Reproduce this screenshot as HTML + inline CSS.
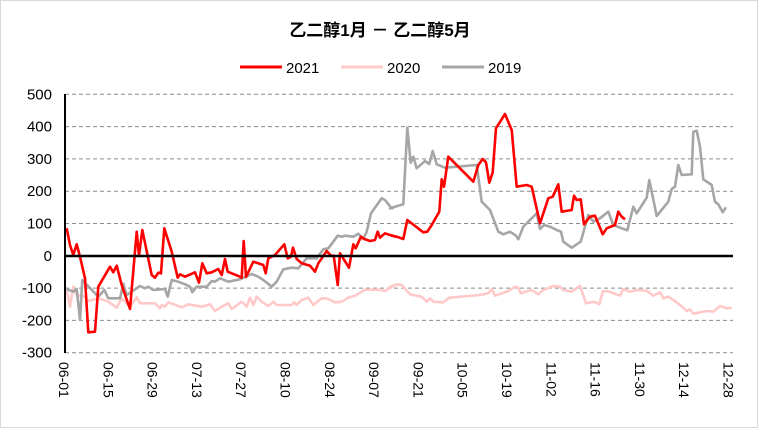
<!DOCTYPE html>
<html><head><meta charset="utf-8"><style>
body{margin:0;background:#fff}
svg{display:block}
text{font-family:"Liberation Sans","Noto Sans CJK SC",sans-serif}
</style></head><body>
<svg id="s" width="758" height="428" xmlns="http://www.w3.org/2000/svg">
<rect x="0.5" y="0.5" width="757" height="427" fill="#fff" stroke="#d9d9d9"/>
<text x="380" y="36" text-anchor="middle" font-size="17" font-weight="bold" fill="#000">乙二醇1月 － 乙二醇5月</text>
<line x1="240" y1="67" x2="282" y2="67" stroke="#ff0000" stroke-width="3"/>
<text x="286" y="73" font-size="15">2021</text>
<line x1="341" y1="67" x2="383" y2="67" stroke="#ffc9c9" stroke-width="3"/>
<text x="387" y="73" font-size="15">2020</text>
<line x1="442" y1="67" x2="484" y2="67" stroke="#a6a6a6" stroke-width="3"/>
<text x="488" y="73" font-size="15">2019</text>
<g id="grid" stroke="#8c8c8c" stroke-dasharray="4,3" stroke-width="1"></g>
<g id="ylab" font-size="15" text-anchor="end"></g>
<g id="xlab" font-size="14"></g>
<g id="lines" fill="none" stroke-width="2.6" stroke-linejoin="round"></g>
<line x1="65" y1="94" x2="65" y2="353" stroke="#000" stroke-width="2"/>
<line x1="65" y1="256" x2="733" y2="256" stroke="#000" stroke-width="2.5"/>
</svg>
<script>
var NS="http://www.w3.org/2000/svg";
function el(t,a,p,txt){var e=document.createElementNS(NS,t);for(var k in a)e.setAttribute(k,a[k]);if(txt!==undefined)e.textContent=txt;document.getElementById(p).appendChild(e);}
for(var i=0;i<9;i++){var y=94.3+i*32.3;var v=500-i*100;if(v!==0)el('line',{x1:65,x2:733,y1:y,y2:y},'grid');el('text',{x:52,y:y+5},'ylab',String(v));}
var labs=["06-01","06-15","06-29","07-13","07-27","08-10","08-24","09-07","09-21","10-05","10-19","11-02","11-16","11-30","12-14","12-28"];
for(var i=0;i<16;i++){var x=64+i*44.3;el('text',{x:0,y:0,transform:'translate('+(x-5)+',362) rotate(90)'},'xlab',labs[i]);}
function conv(a,ox){var r=[];for(var i=0;i<a.length;i+=2){r.push((ox+a[i]/3).toFixed(1)+','+(85+a[i+1]/3).toFixed(1));}return r;}
function line(z1,z2,c){var p=conv(z1,55).concat(conv(z2,390));el('polyline',{points:p.join(' '),stroke:c},'lines');}
line([35,615,45,665,55,605,65,630,90,635,100,648,130,640,160,650,185,668,200,640,225,665,245,637,255,655,300,655,315,670,320,660,330,665,340,652,380,667,400,658,440,665,465,658,480,678,500,665,520,655,530,672,560,650,575,665,585,638,595,660,605,635,620,650,640,663,655,650,665,660,710,660,718,652,725,660,740,645,760,638,775,660,800,640,815,640,840,652,860,650,880,638,900,632,930,614,970,614,990,618,1000,612,1020,600],
[0,605,25,598,35,600,60,628,95,635,110,650,120,640,130,650,160,652,178,638,270,630,295,625,305,612,315,632,355,618,375,605,385,608,392,625,425,615,445,628,460,615,490,603,510,605,520,615,545,620,570,602,588,655,612,650,628,658,638,620,652,618,690,632,700,612,720,620,740,615,770,617,790,632,810,622,820,640,835,635,855,648,880,668,890,678,900,673,910,686,950,678,970,680,990,663,1010,670,1025,668],'#ffc9c9');
line([35,612,55,620,65,612,75,705,82,585,130,635,148,615,160,640,195,640,205,596,215,630,255,603,270,610,280,605,295,615,330,612,338,635,350,585,370,590,390,598,405,605,412,622,425,605,455,605,470,588,480,590,495,580,520,590,555,583,590,567,610,575,625,585,650,605,665,590,685,553,710,548,730,550,755,520,785,520,805,493,820,490,835,470,848,452,860,455,870,452,895,455,910,446,925,462,935,440,948,385,980,340,990,345,1010,370,1020,365],
[0,370,40,358,52,128,62,233,70,215,80,250,105,228,118,237,128,198,140,238,165,248,260,240,275,350,300,375,325,440,340,448,360,440,378,452,385,463,400,425,440,385,450,432,462,420,480,425,500,435,513,440,520,470,545,488,572,470,595,390,610,410,630,400,655,380,670,420,695,430,712,436,730,365,740,385,770,338,778,285,800,393,835,350,845,312,855,305,865,240,875,270,905,268,910,140,920,137,930,185,940,283,965,300,975,350,985,358,998,382,1008,367],'#a6a6a6');
line([35,430,45,480,55,510,65,478,75,515,90,580,100,742,120,740,130,605,165,545,175,562,185,542,200,600,225,672,245,440,252,512,262,435,290,570,300,578,310,563,318,565,328,430,350,500,368,578,375,568,390,575,420,562,432,593,442,535,455,565,470,562,490,552,500,570,510,522,518,560,555,575,560,578,566,468,573,576,595,530,625,540,632,565,640,520,660,510,688,478,698,520,708,515,714,488,725,522,740,535,765,542,780,560,790,535,815,498,828,512,836,512,848,600,855,505,882,548,895,478,902,490,918,455,928,462,945,468,960,465,968,440,975,458,990,445,1020,455],
[0,450,20,455,40,462,52,405,100,442,112,440,125,420,148,380,155,283,162,305,175,215,250,290,265,240,278,222,288,232,298,293,308,262,318,130,345,87,365,135,380,305,410,300,425,305,450,415,475,340,488,335,505,298,515,380,545,375,552,332,560,345,572,343,582,418,600,395,615,392,638,448,650,430,675,420,685,380,695,395,705,403],'#ff0000');
</script>
</body></html>
